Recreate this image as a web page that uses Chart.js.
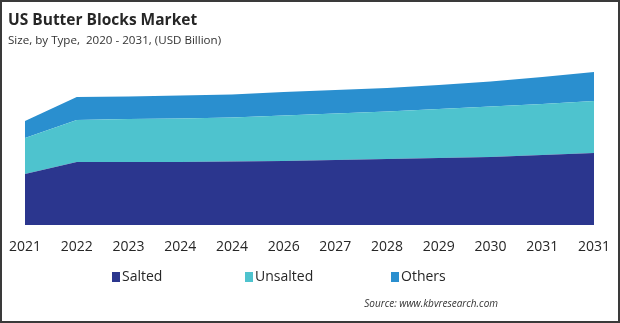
<!DOCTYPE html>
<html>
<head>
<meta charset="utf-8">
<script src="https://cdn.jsdelivr.net/npm/chart.js@4"></script>
<style>
  html, body { margin: 0; padding: 0; background: #fff; }
  #wrap { position: relative; width: 620px; height: 323px; overflow: hidden; background: #fff; }
  #frame { position: absolute; left: 0; top: 0; width: 620px; height: 323px; box-sizing: border-box; border: 2px solid #3a3a3a; pointer-events: none; }
  canvas { position: absolute; left: 0; top: 0; }
  .t { position: absolute; font-family: "Open Sans", sans-serif; color: #262626; white-space: pre; }
  #title { left: 8px; top: 8px; font-size: 15.5px; font-weight: 700; }
  #sub { left: 8px; top: 32px; font-size: 11.6px; color: #333; }
  #src { right: 122px; top: 296px; font-size: 10px; font-style: italic; color: #333; }
</style>
</head>
<body>
<div id="wrap">
  <canvas id="c" width="620" height="323"></canvas>
  <div id="title" class="t">US Butter Blocks Market</div>
  <div id="sub" class="t">Size, by Type,  2020 - 2031, (USD Billion)</div>
  <div id="src" class="t">Source: www.kbvresearch.com</div>
  <div id="frame"></div>
</div>
<script>
const categories = ["2021","2022","2023","2024","2024","2026","2027","2028","2029","2030","2031","2031"];
const salted   = [51, 63, 63, 63, 63.5, 64, 65, 66, 67, 68, 70, 72];
const unsalted = [36, 42, 43, 43.5, 44, 45.5, 46.5, 47.5, 49, 50.5, 51, 52];
const others   = [17, 23, 22.5, 23, 23, 23.5, 23.5, 23.5, 24, 25, 27, 29];
const seriesNames = ["Salted", "Unsalted", "Others"];
const colors = ["#2B368E", "#4EC3CE", "#2A8FCF"];

const legendPlugin = {
  id: 'customLegend',
  afterDraw(chart) {
    const ctx = chart.ctx;
    const xs = [112, 245, 391];
    const y = 277;
    ctx.save();
    ctx.font = '14px "Open Sans", sans-serif';
    ctx.textBaseline = 'middle';
    chart.data.datasets.forEach((ds, i) => {
      ctx.fillStyle = ds.backgroundColor;
      ctx.fillRect(xs[i], y - 5, 8, 10);
      ctx.fillStyle = '#262626';
      ctx.fillText(ds.label, xs[i] + 10, y);
    });
    ctx.restore();
  }
};

new Chart(document.getElementById('c'), {
  type: 'line',
  data: {
    labels: categories,
    datasets: [
      { label: seriesNames[0], data: salted, backgroundColor: colors[0], borderWidth: 0, pointRadius: 0, fill: 'origin' },
      { label: seriesNames[1], data: unsalted, backgroundColor: colors[1], borderWidth: 0, pointRadius: 0, fill: '-1' },
      { label: seriesNames[2], data: others, backgroundColor: colors[2], borderWidth: 0, pointRadius: 0, fill: '-1' }
    ]
  },
  options: {
    responsive: false,
    animation: false,
    layout: { padding: { left: 25, right: 26, top: 60, bottom: 58 } },
    plugins: { legend: { display: false }, tooltip: { enabled: false } },
    elements: { line: { tension: 0 } },
    scales: {
      x: {
        offset: false,
        grid: { display: false },
        border: { display: false },
        ticks: { color: '#262626', font: { family: '"Open Sans", sans-serif', size: 14 }, padding: 6, maxRotation: 0, autoSkip: false },
        afterFit(s) { s.height = 40; }
      },
      y: { display: false, stacked: true, min: 0, max: 165 }
    }
  },
  plugins: [legendPlugin]
});
</script>
</body>
</html>
